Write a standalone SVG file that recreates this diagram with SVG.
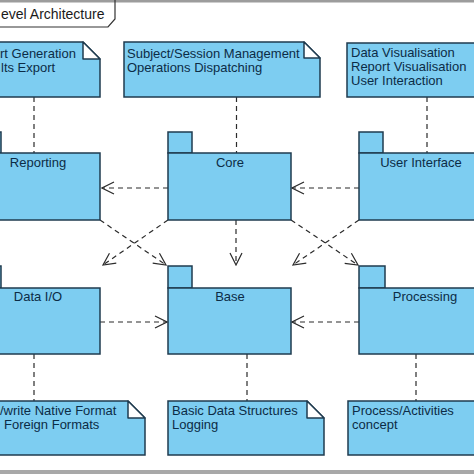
<svg xmlns="http://www.w3.org/2000/svg" width="474" height="474" viewBox="0 0 474 474">
<style>
.box{fill:#7dcdf1;stroke:#1f3b4f;stroke-width:1.5}
.fold{fill:#ffffff;stroke:#1f3b4f;stroke-width:1.5;stroke-linejoin:round}
.t{font-family:"Liberation Sans",Arial,sans-serif;font-size:13px;fill:#0c2c46}
.c{text-anchor:middle}
.dep{fill:none;stroke:#2b2b2b;stroke-width:1.2;stroke-dasharray:5,4}
.ah{fill:none;stroke:#2b2b2b;stroke-width:1.2;stroke-dasharray:none}
</style>
<defs>
<marker id="open" viewBox="0 0 14 14" refX="13" refY="7" markerWidth="14" markerHeight="14" markerUnits="userSpaceOnUse" orient="auto">
<path class="ah" d="M1,1 L13,7 L1,13"/>
</marker>
</defs>
<rect x="0" y="0" width="474" height="474" fill="#ffffff"/>
<rect x="0" y="0" width="474" height="2.5" fill="#9c9c9c"/>
<rect x="0" y="470" width="474" height="4" fill="#a8a8a8"/>
<g id="frame-title">
<path d="M0,27 L108,27 L115,19 L115,0" fill="none" stroke="#333" stroke-width="1.2"/>
<text class="t" x="1" y="19" style="font-size:14px;fill:#1a1a1a">evel Architecture</text>
</g>
<g id="connectors">
<line class="dep" x1="34" y1="97" x2="34" y2="153"/>
<line class="dep" x1="236.5" y1="97" x2="236.5" y2="153"/>
<line class="dep" x1="427" y1="97" x2="427" y2="153"/>
<line class="dep" x1="34" y1="354" x2="34" y2="401"/>
<line class="dep" x1="247" y1="354" x2="247" y2="401"/>
<line class="dep" x1="416" y1="354" x2="416" y2="401"/>
<line class="dep" x1="168" y1="188" x2="102" y2="188" marker-end="url(#open)"/>
<line class="dep" x1="359" y1="188" x2="292" y2="188" marker-end="url(#open)"/>
<line class="dep" x1="100" y1="322" x2="167" y2="322" marker-end="url(#open)"/>
<line class="dep" x1="359" y1="322" x2="292" y2="322" marker-end="url(#open)"/>
<line class="dep" x1="236" y1="220" x2="236" y2="265" marker-end="url(#open)"/>
<line class="dep" x1="100" y1="220" x2="166" y2="265" marker-end="url(#open)"/>
<line class="dep" x1="168" y1="220" x2="103" y2="265" marker-end="url(#open)"/>
<line class="dep" x1="291" y1="220" x2="358" y2="265" marker-end="url(#open)"/>
<line class="dep" x1="359" y1="220" x2="293" y2="265" marker-end="url(#open)"/>
</g>
<g id="note-reporting">
<path class="box" d="M-30,42 L83,42 L100,59 L100,97 L-30,97 Z"/>
<path class="fold" d="M83,42 L83,59 L100,59 Z"/>
<text class="t" x="0" y="58">rt Generation</text>
<text class="t" x="1" y="72">lts Export</text>
</g>
<g id="note-core">
<path class="box" d="M124,42 L304,42 L320,58 L320,97 L124,97 Z"/>
<path class="fold" d="M304,42 L304,58 L320,58 Z"/>
<text class="t" x="127" y="58">Subject/Session Management</text>
<text class="t" x="127" y="72">Operations Dispatching</text>
</g>
<g id="note-ui">
<path class="box" d="M347,43 L490,43 L490,97 L347,97 Z"/>
<text class="t" x="351" y="57">Data Visualisation</text>
<text class="t" x="351" y="71">Report Visualisation</text>
<text class="t" x="351" y="85">User Interaction</text>
</g>
<g id="pkg-reporting">
<rect class="box" x="-23" y="132" width="24" height="21"/>
<rect class="box" x="-23" y="153" width="123" height="67"/>
<text class="t c" x="38" y="167">Reporting</text>
</g>
<g id="pkg-core">
<rect class="box" x="168" y="132" width="24" height="21"/>
<rect class="box" x="168" y="153" width="123" height="67"/>
<text class="t c" x="230" y="167">Core</text>
</g>
<g id="pkg-ui">
<rect class="box" x="359" y="132" width="24" height="21"/>
<rect class="box" x="359" y="153" width="124" height="67"/>
<text class="t c" x="421" y="167">User Interface</text>
</g>
<g id="pkg-dataio">
<rect class="box" x="-23" y="266" width="24" height="22"/>
<rect class="box" x="-23" y="288" width="123" height="66"/>
<text class="t c" x="38" y="301">Data I/O</text>
</g>
<g id="pkg-base">
<rect class="box" x="168" y="266" width="24" height="22"/>
<rect class="box" x="168" y="288" width="123" height="66"/>
<text class="t c" x="230" y="301">Base</text>
</g>
<g id="pkg-processing">
<rect class="box" x="359" y="266" width="26" height="22"/>
<rect class="box" x="359" y="288" width="132" height="66"/>
<text class="t c" x="425" y="301">Processing</text>
</g>
<g id="note-dataio">
<path class="box" d="M-30,401 L128,401 L145,418 L145,455 L-30,455 Z"/>
<path class="fold" d="M128,401 L128,418 L145,418 Z"/>
<text class="t" x="0" y="415">/write Native Format</text>
<text class="t" x="4" y="429">Foreign Formats</text>
</g>
<g id="note-base">
<path class="box" d="M168,401 L307,401 L324,418 L324,455 L168,455 Z"/>
<path class="fold" d="M307,401 L307,418 L324,418 Z"/>
<text class="t" x="172" y="415">Basic Data Structures</text>
<text class="t" x="172" y="429">Logging</text>
</g>
<g id="note-processing">
<path class="box" d="M348,401 L490,401 L490,455 L348,455 Z"/>
<text class="t" x="352" y="415">Process/Activities</text>
<text class="t" x="352" y="429">concept</text>
</g>
</svg>
